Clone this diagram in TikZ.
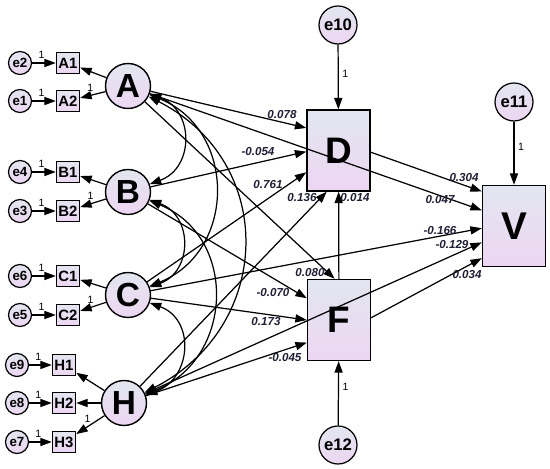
\documentclass[tikz,border=0pt]{standalone}
\usepackage{fontspec}
\setmainfont{Liberation Sans}
\usetikzlibrary{arrows.meta}
\definecolor{fillTop}{RGB}{226,230,240}
\definecolor{fillBot}{RGB}{237,214,242}
\definecolor{coefInk}{RGB}{30,30,52}
\tikzset{
  shade/.style={top color=fillTop, bottom color=fillBot},
  lat/.style={circle, draw, line width=0.8pt, shade, minimum size=0.9cm, inner sep=0pt,
    font=\bfseries\fontsize{19}{19}\selectfont},
  obs/.style={draw, line width=0.8pt, shade, minimum width=0.46cm, minimum height=0.43cm,
    inner sep=0pt, font=\bfseries\fontsize{8.5}{8.5}\selectfont},
  endo/.style={obs, minimum width=1.26cm, minimum height=1.62cm,
    font=\bfseries\fontsize{21}{21}\selectfont},
  err/.style={circle, draw, line width=0.7pt, shade, minimum size=0.46cm, inner sep=0pt,
    font=\bfseries\fontsize{7.6}{7.6}\selectfont},
  errbig/.style={err, minimum size=0.76cm, font=\bfseries\fontsize{9.5}{9.5}\selectfont},
  reg/.style={-{Triangle[length=6.5pt,width=4.6pt]}, line width=0.7pt},
  cov/.style={{Triangle[length=6.5pt,width=4.6pt]}-{Triangle[length=6.5pt,width=4.6pt]}, line width=0.7pt},
  coef/.style={font=\bfseries\itshape\fontsize{6.6}{6.6}\selectfont, text=coefInk, inner sep=0pt},
  one/.style={font=\fontsize{6}{6}\selectfont, inner sep=2pt},
}
\begin{document}
\begin{tikzpicture}[x=0.02cm, y=0.02cm]
  \useasboundingbox (0,0) rectangle (550,469);
  % latent factors
  \node[lat] (A) at (128,383) {A};
  \node[lat] (B) at (128,277) {B};
  \node[lat] (C) at (128,174) {C};
  \node[lat] (H) at (124,66) {H};
  % indicators and their errors
  \node[obs] (A1) at (68,406) {A1};
  \node[obs] (A2) at (68,368) {A2};
  \node[obs] (B1) at (68,297) {B1};
  \node[obs] (B2) at (68,258) {B2};
  \node[obs] (C1) at (68,193) {C1};
  \node[obs] (C2) at (68,154) {C2};
  \node[obs] (H1) at (64,104) {H1};
  \node[obs] (H2) at (64,66) {H2};
  \node[obs] (H3) at (64,27) {H3};
  \node[err] (e2) at (20,406) {e2};
  \node[err] (e1) at (20,368) {e1};
  \node[err] (e4) at (20,297) {e4};
  \node[err] (e3) at (20,258) {e3};
  \node[err] (e6) at (20,193) {e6};
  \node[err] (e5) at (20,154) {e5};
  \node[err] (e9) at (17,104) {e9};
  \node[err] (e8) at (17,66) {e8};
  \node[err] (e7) at (17,27) {e7};
  % outcomes
  \node[endo] (D) at (338.5,318.5) {D};
  \node[endo] (F) at (339,149) {F};
  \node[endo, font=\bfseries\fontsize{22}{22}\selectfont] (V) at (514,243) {V};
  \node[errbig] (e10) at (338,444) {e10};
  \node[errbig] (e11) at (514,367) {e11};
  \node[errbig] (e12) at (338,24) {e12};

  % measurement part
  \foreach \e/\m in {e2/A1,e1/A2,e4/B1,e3/B2,e6/C1,e5/C2,e9/H1,e8/H2,e7/H3}
    \draw[reg] (\e) -- node[one, above, pos=0.4]{1} (\m);
  \draw[reg] (A) -- (A1);
  \draw[reg] (A) -- node[one, above, pos=0.6]{1} (A2);
  \draw[reg] (B) -- (B1);
  \draw[reg] (B) -- node[one, above, pos=0.6]{1} (B2);
  \draw[reg] (C) -- (C1);
  \draw[reg] (C) -- node[one, above, pos=0.6]{1} (C2);
  \draw[reg] (H) -- (H1);
  \draw[reg] (H) -- (H2);
  \draw[reg] (H) -- node[one, above, pos=0.6]{1} (H3);

  % covariances
  \draw[cov] (A) to[out=-20, in=20, looseness=1.35] (B);
  \draw[cov] (B) to[out=-20, in=20, looseness=1.35] (C);
  \draw[cov] (C) to[out=-20, in=20, looseness=1.35] (H);
  \draw[cov] (A) to[out=-22, in=22, looseness=1.26] (C);
  \draw[cov] (B) to[out=-22, in=22, looseness=1.26] (H);
  \draw[cov] (A) to[out=-27, in=27, looseness=1.25] (H);

  % structural paths
  \draw[reg] (A) -- (D.145);
  \draw[reg] (A) -- (V.154);
  \draw[reg] (A) -- (F.96);
  \draw[reg] (B) -- (D.182);
  \draw[reg] (B) -- (F.146);
  \draw[reg] (C) -- (D.214);
  \draw[reg] (C) -- (F.180);
  \draw[reg] (C) -- (V.184);
  \draw[reg] (H) -- (D.254);
  \draw[reg] (H) -- (F.215);
  \draw[reg] (H) -- (V.207);
  \draw[reg] (F) -- (D);
  \draw[reg] (D.-3) -- (V.133);
  \draw[reg] (F.4) -- (V.225);
  \draw[reg] (e10) -- node[one, right, pos=0.45]{1} (D);
  \draw[reg] (e11) -- node[one, right, pos=0.4]{1} (V);
  \draw[reg] (e12) -- node[one, right, pos=0.6]{1} (F);

  % estimates
  \node[coef] (c1) at (282,354) {0.078};
  \node[coef] (c2) at (258,317) {-0.054};
  \node[coef] (c3) at (268,284) {0.761};
  \node[coef] (c4) at (302,271) {0.136};
  \node[coef] (c5) at (355,271) {0.014};
  \node[coef] (c6) at (310,196) {0.080};
  \node[coef] (c7) at (273,176) {-0.070};
  \node[coef] (c8) at (266,147) {0.173};
  \node[coef] (c9) at (285,111) {-0.045};
  \node[coef] (c10) at (464,291) {0.304};
  \node[coef] (c11) at (440,269) {0.047};
  \node[coef] (c12) at (440,238) {-0.166};
  \node[coef] (c13) at (452,224) {-0.129};
  \node[coef] (c14) at (467,194) {0.034};
\end{tikzpicture}
\end{document}
